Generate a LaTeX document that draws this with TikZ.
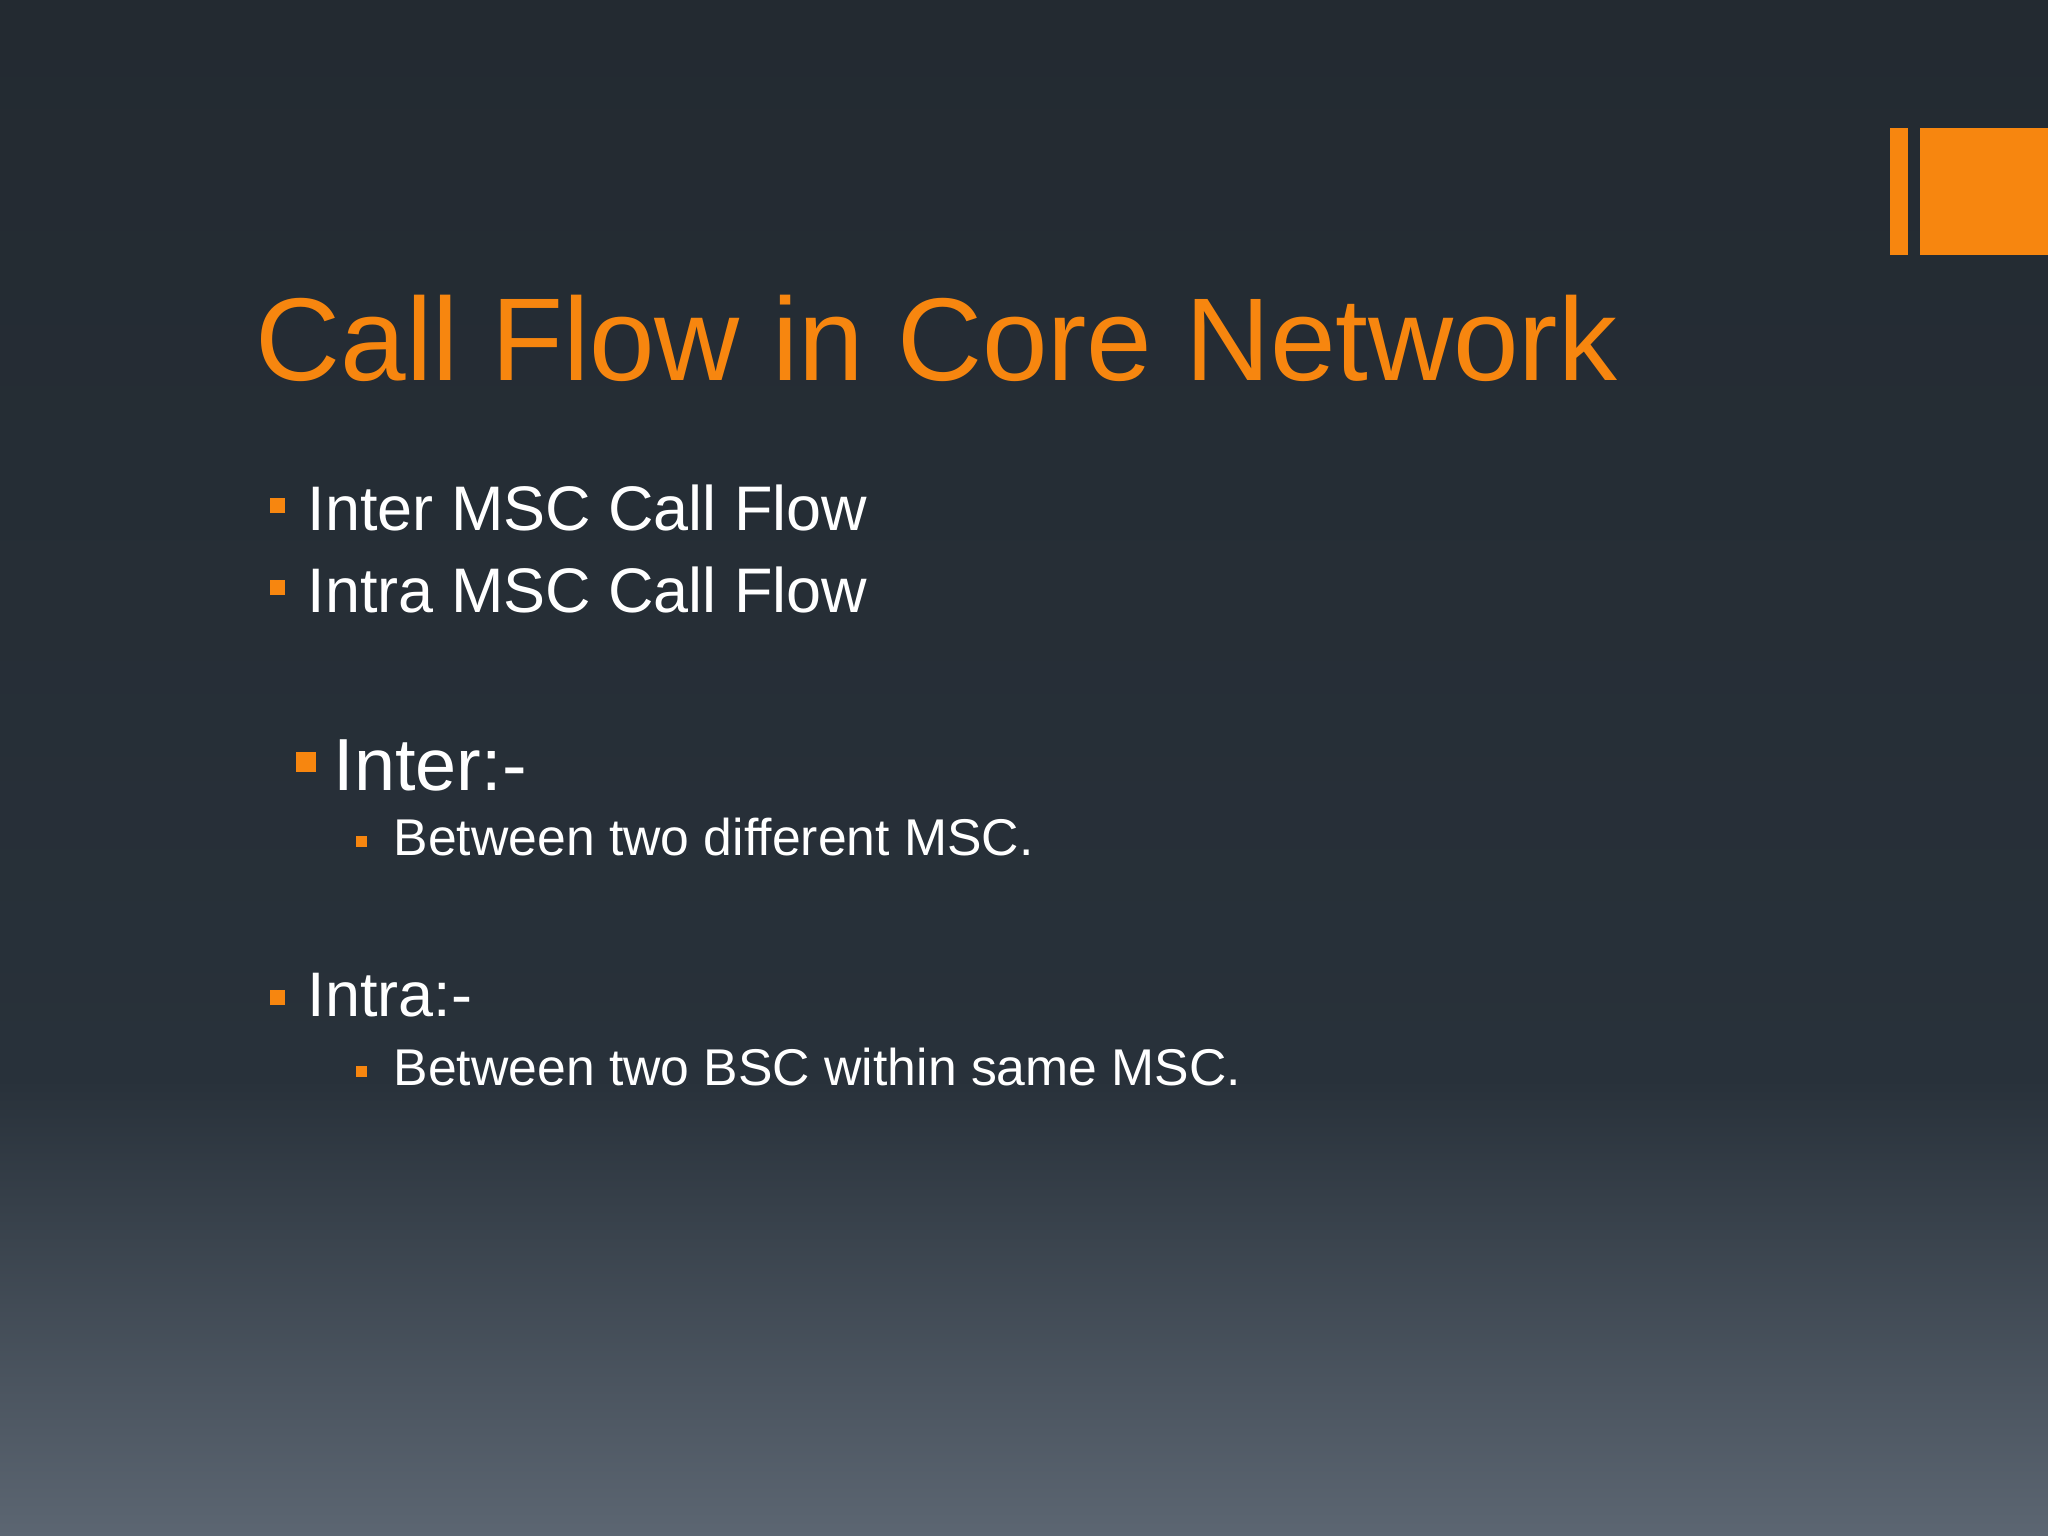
\documentclass[tikz,border=0pt]{standalone}
\usepackage{fontspec}
\setmainfont{Liberation Sans}
\definecolor{bgtop}{HTML}{232A31}
\definecolor{bgmid}{HTML}{28313A}
\definecolor{bgbot}{HTML}{5C6672}
\definecolor{org}{HTML}{F7860F}
\begin{document}
\begin{tikzpicture}[x=0.01cm,y=-0.01cm,
  txt/.style={anchor=base west,inner sep=0pt,text=white},
  bul/.style={fill=org,draw=none}]
\useasboundingbox (0,0) rectangle (2048,1536);
\shade[top color=bgtop,bottom color=bgmid] (0,0) rectangle (2048,1080);
\shade[top color=bgmid,bottom color=bgbot] (0,1079) rectangle (2048,1536);
\fill[org] (1890,128) rectangle (1908,255);
\fill[org] (1920,128) rectangle (2048,255);
\node[txt,text=org,font=\fontsize{33.5}{40}\selectfont] (title) at (255,380) {Call Flow in Core Network};
\fill[bul] (270,498) rectangle (285,513);
\node[txt,font=\fontsize{17.9}{22}\selectfont] (b1) at (307,530) {Inter MSC Call Flow};
\fill[bul] (270,580) rectangle (285,595);
\node[txt,font=\fontsize{17.9}{22}\selectfont] (b2) at (307,612) {Intra MSC Call Flow};
\fill[bul] (296,752) rectangle (316,772);
\node[txt,font=\fontsize{21}{25}\selectfont] (b3) at (333,790) {Inter:-};
\fill[bul] (356,836) rectangle (367,847);
\node[txt,font=\fontsize{14.7}{18}\selectfont] (b4) at (393,855) {Between two different MSC.};
\fill[bul] (270,990) rectangle (285,1005);
\node[txt,font=\fontsize{17.9}{22}\selectfont] (b5) at (307,1016) {Intra:-};
\fill[bul] (356,1066) rectangle (367,1077);
\node[txt,font=\fontsize{14.7}{18}\selectfont] (b6) at (393,1085) {Between two BSC within same MSC.};
\end{tikzpicture}
\end{document}
